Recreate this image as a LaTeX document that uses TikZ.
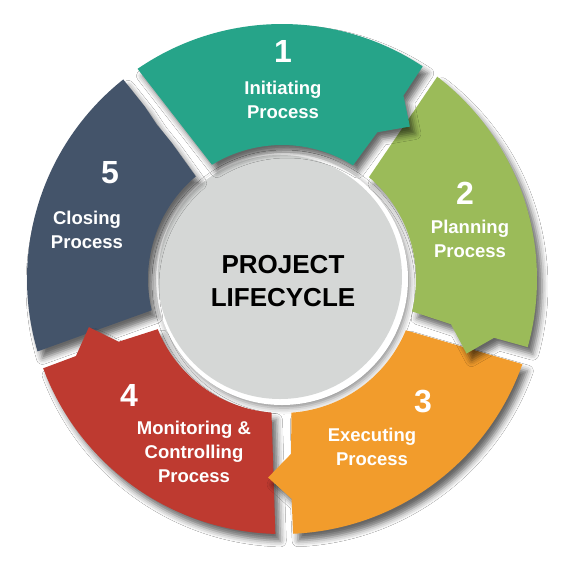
\documentclass[tikz,border=0pt]{standalone}
\usepackage{fontspec}
\setmainfont{Liberation Sans}
\usetikzlibrary{shadows.blur}
\definecolor{cteal}{HTML}{26A489}
\definecolor{clime}{HTML}{9BBB59}
\definecolor{corange}{HTML}{F29C2C}
\definecolor{cred}{HTML}{BE3A30}
\definecolor{cnavy}{HTML}{44546A}
\definecolor{cgray}{HTML}{D5D7D6}
\tikzset{
  segshadow/.style={blur shadow={shadow xshift=5pt, shadow yshift=-7pt, shadow blur radius=6pt, shadow opacity=60}},
  numtxt/.style={text=white, font=\bfseries\fontsize{32}{36}\selectfont},
  labtxt/.style={text=white, align=center, font=\bfseries\fontsize{18.5}{24}\selectfont},
  centxt/.style={text=black, align=center, font=\bfseries\fontsize{26}{33}\selectfont},
}
% #1 index, #2 colour, #3 tip offset (0 = no tip)
\newcommand{\mysegment}[3]{%
  \pgfmathsetmacro{\as}{123-72*#1}%
  \pgfmathsetmacro{\ae}{57-72*#1}%
  \pgfmathsetmacro{\aso}{\as+1.5}%
  \pgfmathsetmacro{\asi}{\as-1.5}%
  \pgfmathsetmacro{\aeo}{\ae-0.5}%
  \pgfmathsetmacro{\aei}{\ae+1}%
  \pgfmathsetmacro{\at}{\ae-#3}%
  \fill[#2, segshadow] (\aso:255pt) arc[start angle=\aso, end angle=\aeo, radius=255pt]
    -- (\aeo:220pt) -- (\at:199pt) -- (\ae:175pt) -- (\aei:134pt)
    arc[start angle=\aei, end angle=\asi, radius=134pt] -- cycle;
}
\begin{document}
\begin{tikzpicture}[x=1pt,y=1pt]
\useasboundingbox (-282,-287) rectangle (291,279);
\fill[white] (-282,-287) rectangle (291,279);
% central circle
\fill[white, blur shadow={shadow xshift=2pt, shadow yshift=-3pt, shadow blur radius=6pt, shadow opacity=45}] (0,0) circle[radius=126pt];
\fill[cgray] (-2,2) circle[radius=122pt];
% segments
\mysegment{4}{cnavy}{0}
\mysegment{3}{cred}{7}
\mysegment{2}{corange}{7}
\mysegment{1}{clime}{7}
\mysegment{0}{cteal}{7}
% texts
\node[numtxt] (n1) at (1,228) {1};
\node[labtxt] (l1) at (1,179.5) {Initiating\\Process};
\node[numtxt] (n2) at (183,86) {2};
\node[labtxt] (l2) at (188,40.5) {Planning\\Process};
\node[numtxt] (n3) at (141,-123) {3};
\node[labtxt] (l3) at (90,-167.5) {Executing\\Process};
\node[numtxt] (n4) at (-153,-116) {4};
\node[labtxt] (l4) at (-88,-173) {Monitoring \&\\Controlling\\Process};
\node[numtxt] (n5) at (-172,106) {5};
\node[labtxt] (l5) at (-195,49) {Closing\\Process};
\node[centxt] (c) at (1,-2.5) {PROJECT\\LIFECYCLE};
\end{tikzpicture}
\end{document}
